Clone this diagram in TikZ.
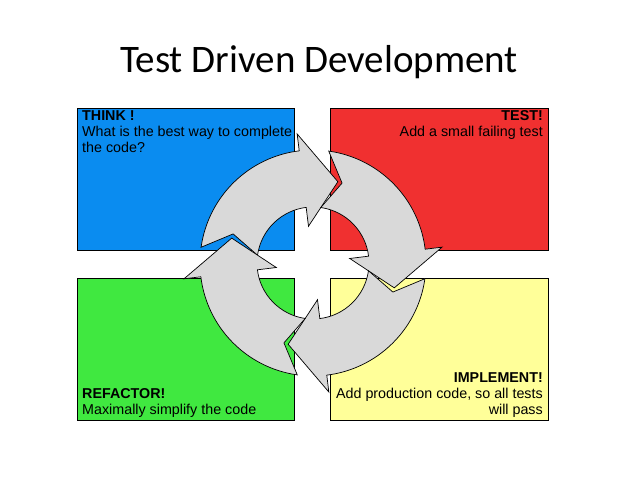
\documentclass[tikz,border=0pt]{standalone}
\usepackage{fontspec}
\usetikzlibrary{calc}
\setmainfont{Liberation Sans}
\newfontfamily\titlefont{Carlito}
\begin{document}
\begin{tikzpicture}[x=1pt,y=1pt,
  quad/.style={draw=black,line width=0.6pt},
  lbl/.style={inner xsep=4pt,inner ysep=2pt,font=\fontsize{14.3}{16}\selectfont},
  arr/.style={fill=black!15,draw=black,line width=0.7pt,line join=miter}]
\useasboundingbox (0,0) rectangle (638,478);
\node[font=\titlefont\fontsize{39}{42}\selectfont] (title) at (319,416) {Test Driven Development};
\fill[quad,fill={rgb,255:red,10;green,140;blue,240}] (77,370) rectangle (294,228);
\fill[quad,fill={rgb,255:red,240;green,48;blue,48}] (330,370) rectangle (548,228);
\fill[quad,fill={rgb,255:red,64;green,232;blue,64}] (77,200) rectangle (294,58);
\fill[quad,fill={rgb,255:red,255;green,255;blue,153}] (330,200) rectangle (548,58);
\node[lbl,anchor=north west,align=left] (think) at (78,370) {\textbf{THINK !}\\What is the best way to complete\\the code?};
\node[lbl,anchor=north east,align=right] (test) at (547,370) {\textbf{TEST!}\\Add a small failing test};
\node[lbl,anchor=south west,align=left] (refactor) at (78,58) {\textbf{REFACTOR!}\\Maximally simplify the code};
\node[lbl,anchor=south east,align=right] (impl) at (547,58) {\textbf{IMPLEMENT!}\\Add production code, so all tests\\will pass};
\coordinate (c) at (313,215);
\foreach \k in {0,1,2,3}{
 \begin{scope}[rotate around={-90*\k:(c)}]
  \path[arr] ($(c)+(172:113)$) arc[start angle=172,end angle=97,radius=113]
    -- ($(c)+(97:130)$) -- ($(c)+(73:85)$) -- ($(c)+(97:37)$) -- ($(c)+(97:56)$)
    arc[start angle=97,end angle=172,radius=56] -- ($(c)+(160:85)$) -- cycle;
 \end{scope}}
\end{tikzpicture}
\end{document}
